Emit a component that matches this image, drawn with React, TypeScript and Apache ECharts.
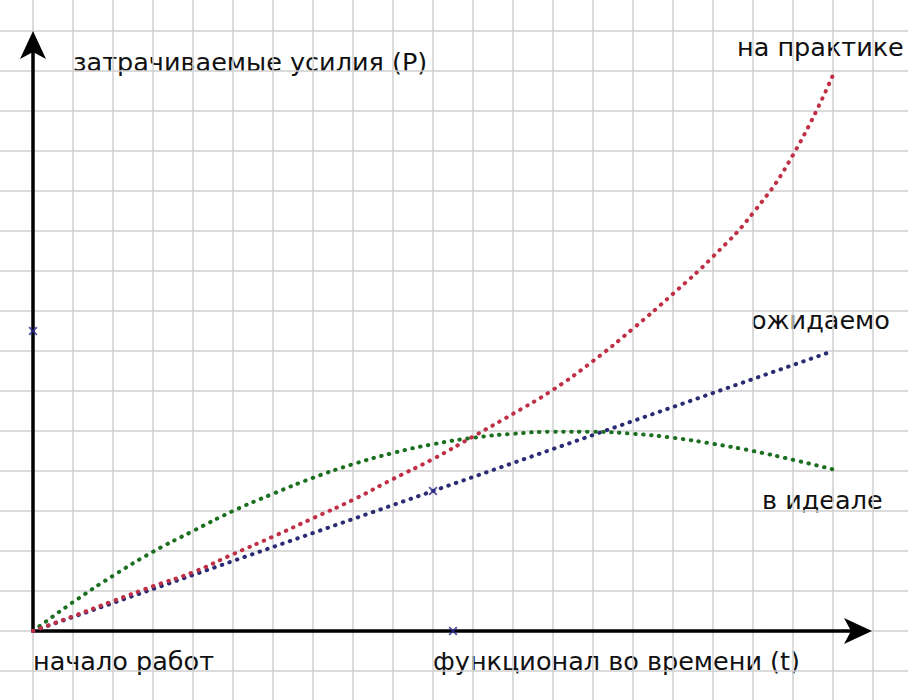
import { useEffect, useRef } from "react";
import * as echarts from "echarts";

// x steps along "функционал во времени (t)", one grid cell each
const steps = [0, 1, 2, 3, 4, 5, 6, 7, 8, 9, 10, 11, 12, 13, 14, 15, 16, 17, 18, 19, 20];
// на практике
const practice = [0, 0.37, 0.75, 1.12, 1.47, 1.92, 2.36, 2.82, 3.28, 3.8, 4.3, 4.86, 5.43, 6.03, 6.75, 7.56, 8.43, 9.36, 10.45, 11.9, 13.9];
// ожидаемо
const expected = [0, 0.35, 0.7, 1.05, 1.4, 1.75, 2.1, 2.45, 2.8, 3.15, 3.5, 3.85, 4.2, 4.55, 4.9, 5.25, 5.6, 5.95, 6.3, 6.65, 7.0];
// в идеале
const ideal = [0, 0.72, 1.38, 1.98, 2.5, 3.0, 3.43, 3.83, 4.17, 4.45, 4.67, 4.83, 4.93, 4.98, 4.98, 4.93, 4.83, 4.68, 4.5, 4.28, 4.04];
// little crosses: on the y axis, on the x axis, on the expected line
const marks: [number, number][] = [[0, 7.5], [10.5, 0], [10, 3.5]];

const FONT = '25.5px "DejaVu Sans"';
const CROSS = "path://M0,1.5 L1.5,0 L5,3.5 L8.5,0 L10,1.5 L6.5,5 L10,8.5 L8.5,10 L5,6.5 L1.5,10 L0,8.5 L3.5,5 Z";
const ARROW = "path://M13,0 L26,28 L13,21 L0,28 Z";

// the chart canvas is a bit bigger than the page so the squared paper runs off every edge
const SHIFT_X = 7;
const SHIFT_Y = 9;

function dotted(name: string, ys: number[], color: string, smooth: boolean) {
  return {
    name,
    type: "line",
    xAxisIndex: 0,
    yAxisIndex: 0,
    data: steps.map((x, i) => [x, ys[i]]),
    smooth,
    showSymbol: false,
    lineStyle: { color, width: 4, type: [0.5, 7.5], cap: "round" },
    z: 3,
  };
}

function label(text: string, x: number, y: number) {
  return {
    type: "text",
    x,
    y,
    style: { text, font: FONT, fill: "#111", align: "left", verticalAlign: "middle", textAlign: "left", textVerticalAlign: "middle" },
  };
}

export default function App() {
  const elRef = useRef<HTMLDivElement>(null);

  useEffect(() => {
    if (!elRef.current) return;
    const chart = echarts.init(elRef.current, undefined, { renderer: "svg" });
    const grey = { lineStyle: { color: "#cfcfcf", width: 1.5 } };
    const axisOnly = {
      axisLine: { show: true, onZero: false, symbol: ["none", ARROW], symbolSize: [26, 28], lineStyle: { color: "#000", width: 3.5 } },
      axisTick: { show: false },
      axisLabel: { show: false },
      splitLine: { show: false },
    };
    chart.setOption({
      animation: false,
      backgroundColor: "#fff",
      grid: [
        { left: 0, top: 0, width: 920, height: 720 },
        { left: 33 + SHIFT_X, top: 45 + SHIFT_Y, width: 825, height: 586 },
      ],
      xAxis: [
        { type: "value", gridIndex: 0, min: -1, max: 22, interval: 1, axisLine: { show: false }, axisTick: { show: false }, axisLabel: { show: false }, splitLine: grey },
        { type: "value", gridIndex: 1, min: 0, max: 20.625, ...axisOnly },
      ],
      yAxis: [
        { type: "value", gridIndex: 0, min: -2, max: 16, interval: 1, axisLine: { show: false }, axisTick: { show: false }, axisLabel: { show: false }, splitLine: grey },
        { type: "value", gridIndex: 1, min: 0, max: 14.65, ...axisOnly },
      ],
      series: [
        dotted("в идеале", ideal, "#1b6f1f", true),
        dotted("ожидаемо", expected, "#2b2b74", false),
        dotted("на практике", practice, "#bf2f45", true),
        {
          type: "scatter",
          xAxisIndex: 0,
          yAxisIndex: 0,
          data: marks,
          symbol: CROSS,
          symbolSize: 9,
          itemStyle: { color: "#2b2b8a" },
          z: 4,
        },
      ],
      graphic: [
        {
          type: "group",
          x: SHIFT_X,
          y: SHIFT_Y,
          children: [
            label("затрачиваемые усилия (P)", 73, 62),
            label("на практике", 737, 47),
            label("ожидаемо", 751, 320),
            label("в идеале", 762, 500),
            label("начало работ", 33, 661),
            label("функционал во времени (t)", 433, 661),
          ],
        },
      ],
    });
    return () => chart.dispose();
  }, []);

  return (
    <div style={{ position: "fixed", left: 0, top: 0, width: 908, height: 700, overflow: "hidden" }}>
      <div ref={elRef} style={{ position: "absolute", left: -SHIFT_X, top: -SHIFT_Y, width: 920, height: 720 }} />
    </div>
  );
}
